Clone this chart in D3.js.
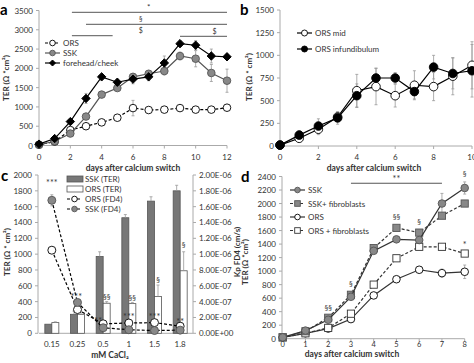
<!DOCTYPE html>
<html><head><meta charset="utf-8">
<script src="https://cdn.jsdelivr.net/npm/d3@7"></script>
<style>
body{margin:0;background:#fff}
text{font-family:Lato,"Open Sans",sans-serif;fill:#333}
</style></head>
<body>
<svg id="c" width="474" height="363"></svg>
<script>
// ---------- DATA ----------
const daysA = [0,1,2,3,4,5,6,7,8,9,10,11,12];
const aORS  = [20,100,400,500,600,720,970,920,930,970,930,930,980];
const aSSK  = [20,110,310,750,1320,1490,1780,1860,1930,2320,2250,1880,1680];
const aFH   = [35,180,620,1220,1780,1640,1720,1780,2140,2640,2600,2320,2300];
const aORSerr = [0,30,40,40,40,50,200,40,40,40,40,40,40];
const aSSKerr = [0,30,40,50,50,60,60,80,100,100,210,220,300];
const aFHerr  = [0,40,50,130,60,80,120,100,180,60,120,180,60];
const aYTicks = [0,500,1000,1500,2000,2500,3000,3500];
const aXTicks = [0,2,4,6,8,10,12];

const daysB = [0,1,2,3,4,5,6,7,8,9,10];
const bMid = [10,85,185,320,610,655,555,670,655,770,890];
const bInf = [10,120,220,310,555,750,750,600,870,800,830];
const bMidErr = [0,40,60,50,180,200,125,160,155,205,260];
const bInfErr = [0,50,80,70,130,110,60,80,130,170,290];
const bYTicks = [0,250,500,750,1000,1250,1500];
const bXTicks = [0,2,4,6,8,10];

const concs = ["0.15","0.25","0.5","1","1.5","1.8"];
const sskTER = [115,240,970,1460,1670,1800];
const orsTER = [135,240,380,375,465,790];
const sskTERerr = [0,40,60,40,55,70];
const orsTERerr = [10,30,20,15,145,240];
const orsFD4 = [1.05e-6,3.0e-7,1.2e-7,1.3e-7,1.35e-7,9e-8];
const sskFD4 = [1.68e-6,3.9e-7,7e-8,4.5e-8,3.5e-8,4e-8];
const sskFD4err = [7e-8,2e-8,1e-8,1e-8,1e-8,1e-8];
const cYTicks = [0,200,400,600,800,1000,1200,1400,1600,1800,2000];
const cY2Ticks = ["0.00E+00","2.00E-07","4.00E-07","6.00E-07","8.00E-07","1.00E-06","1.20E-06","1.40E-06","1.60E-06","1.80E-06","2.00E-06"];

const daysD = [0,1,2,3,4,5,6,7,8];
const dSSK  = [20,120,280,620,1300,1470,1460,2000,2230];
const dSSKf = [20,110,310,650,1340,1640,1570,1820,2000];
const dORS  = [20,80,150,290,640,880,1020,970,990];
const dORSf = [20,80,160,370,800,1190,1360,1360,1260];
const dSSKerr = [0,20,30,30,40,40,40,150,90];
const dORSerr = [0,20,20,20,30,30,30,60,100];
const dYTicks = [0,200,400,600,800,1000,1200,1400,1600,1800,2000,2200,2400];

const svg = d3.select("#c");
const AX = "#aaa", TF = 8;

function yAxis(g, y, x0, ticks){
  g.append("line").attr("x1",x0).attr("x2",x0).attr("y1",y.range()[0]).attr("y2",y.range()[1]).attr("stroke",AX);
  ticks.forEach(t=>{
    g.append("line").attr("x1",x0-3).attr("x2",x0).attr("y1",y(t)).attr("y2",y(t)).attr("stroke",AX);
    g.append("text").attr("x",x0-6).attr("y",y(t)+3).attr("text-anchor","end").attr("font-size",TF).text(t);
  });
}
function xAxis(g, x, y0, ticks, off, fs){
  g.append("line").attr("x1",x.range()[0]).attr("x2",x.range()[1]).attr("y1",y0).attr("y2",y0).attr("stroke",AX);
  ticks.forEach(t=>{
    g.append("line").attr("x1",x(t)).attr("x2",x(t)).attr("y1",y0).attr("y2",y0+3).attr("stroke",AX);
    g.append("text").attr("x",x(t)).attr("y",y0+(off||14)).attr("text-anchor","middle").attr("font-size",fs||TF).text(t);
  });
}
function errBars(g, xs, vals, errs, x, y){
  vals.forEach((v,i)=>{
    if(!errs[i]) return;
    const cx=x(xs[i]);
    g.append("line").attr("x1",cx).attr("x2",cx).attr("y1",y(v-errs[i])).attr("y2",y(v+errs[i])).attr("stroke","#999").attr("stroke-width",0.8);
    [v-errs[i],v+errs[i]].forEach(e=>g.append("line").attr("x1",cx-1.5).attr("x2",cx+1.5).attr("y1",y(e)).attr("y2",y(e)).attr("stroke","#999").attr("stroke-width",0.8));
  });
}
function series(g, xs, vals, x, y, o){
  const line=d3.line().x((d,i)=>x(xs[i])).y(d=>y(d));
  g.append("path").attr("d",line(vals)).attr("fill","none").attr("stroke",o.line||"#000").attr("stroke-width",o.lw||1.2).attr("stroke-dasharray",o.dash||null);
  vals.forEach((v,i)=>marker(g,x(xs[i]),y(v),o));
}
function marker(g,cx,cy,o){
  const r=o.r||3.8;
  if(o.shape==="square") g.append("rect").attr("x",cx-r).attr("y",cy-r).attr("width",2*r).attr("height",2*r).attr("fill",o.fill).attr("stroke",o.stroke).attr("stroke-width",0.9);
  else if(o.shape==="diamond") g.append("path").attr("d",`M${cx},${cy-r}L${cx+r},${cy}L${cx},${cy+r}L${cx-r},${cy}Z`).attr("fill",o.fill).attr("stroke",o.stroke);
  else g.append("circle").attr("cx",cx).attr("cy",cy).attr("r",r).attr("fill",o.fill).attr("stroke",o.stroke).attr("stroke-width",0.9);
}
function legend(g, x0, y0, dy, items){
  items.forEach((it,i)=>{
    const yy=y0+i*dy;
    if(it.bar){ g.append("rect").attr("x",x0).attr("y",yy-3).attr("width",16).attr("height",6).attr("fill",it.fill).attr("stroke","#555").attr("stroke-width",0.8); }
    else { g.append("line").attr("x1",x0).attr("x2",x0+15).attr("y1",yy).attr("y2",yy).attr("stroke",it.line||"#000").attr("stroke-width",1.2).attr("stroke-dasharray",it.dash||null);
      marker(g,x0+7.5,yy,Object.assign({},it,{r:it.lr||2.8})); }
    g.append("text").attr("x",x0+18).attr("y",yy+3).attr("font-size",TF).text(it.label);
  });
}
function ylabel(g,x,y,txt){
  g.append("text").attr("transform",`translate(${x},${y}) rotate(-90)`).attr("text-anchor","middle").attr("font-size",8).attr("font-weight","bold").text(txt);
}
function sig(g,x,y,txt,size){
  g.append("text").attr("x",x).attr("y",y).attr("text-anchor","middle").attr("font-size",size||8).attr("fill","#444").text(txt);
}
function panelLetter(x,y,t){ svg.append("text").attr("x",x).attr("y",y).attr("font-size",15).attr("font-weight","bold").style("fill","#000").text(t); }

const ORSo={shape:"circle",fill:"#fff",stroke:"#000",dash:"3,2"};
const SSKo={shape:"circle",fill:"#888",stroke:"#555",line:"#555"};
const FHo={shape:"diamond",fill:"#000",stroke:"#000",r:4.2};

// ---------- PANEL A ----------
{
  const g=svg.append("g");
  const x=d3.scaleLinear().domain([0,12]).range([39,227]);
  const y=d3.scaleLinear().domain([0,3500]).range([145.5,10.5]);
  yAxis(g,y,39,aYTicks); xAxis(g,x,145.5,aXTicks);
  errBars(g,daysA,aORS,aORSerr,x,y); errBars(g,daysA,aSSK,aSSKerr,x,y); errBars(g,daysA,aFH,aFHerr,x,y);
  series(g,daysA,aORS,x,y,ORSo);
  series(g,daysA,aSSK,x,y,SSKo);
  series(g,daysA,aFH,x,y,FHo);
  const sl=[[2.1,12,3450,"*",7],[3,12,3140,"§",6.5],[2.1,4.7,2850,"$",6.5],[9,12,2830,"$",11.2]];
  sl.forEach(s=>{g.append("line").attr("x1",x(s[0])).attr("x2",x(s[1])).attr("y1",y(s[2])).attr("y2",y(s[2])).attr("stroke","#777").attr("stroke-width",1.2);
    sig(g,x(s[4]),y(s[2])-2.5,s[3],s[3]==="*"?8:7);});
  legend(g,45,43,10,[Object.assign({label:"ORS"},ORSo),Object.assign({label:"SSK"},SSKo),Object.assign({label:"forehead/cheek",lr:3},FHo)]);
  ylabel(g,9,78,"TER (Ω *cm²)");
  g.append("text").attr("x",133).attr("y",171).attr("text-anchor","middle").attr("font-size",8.5).attr("font-weight","bold").text("days after calcium switch");
  panelLetter(0,15,"a");
}
// ---------- PANEL B ----------
{
  const g=svg.append("g");
  const x=d3.scaleLinear().domain([0,10]).range([280,472]);
  const y=d3.scaleLinear().domain([0,1500]).range([146,10]);
  yAxis(g,y,280,bYTicks); xAxis(g,x,146,bXTicks);
  errBars(g,daysB,bMid,bMidErr,x,y); errBars(g,daysB,bInf,bInfErr,x,y);
  series(g,daysB,bMid,x,y,{shape:"circle",fill:"#fff",stroke:"#000",r:4.3});
  series(g,daysB,bInf,x,y,{shape:"circle",fill:"#000",stroke:"#000",r:4.3});
  legend(g,297,33,16,[{label:"ORS mid",shape:"circle",fill:"#fff",stroke:"#000",lr:3},{label:"ORS infundibulum",shape:"circle",fill:"#000",stroke:"#000",lr:3}]);
  ylabel(g,252,77,"TER (Ω * cm²)");
  g.append("text").attr("x",374).attr("y",171).attr("text-anchor","middle").attr("font-size",8.5).attr("font-weight","bold").text("days after calcium switch");
  panelLetter(240,15,"b");
}
// ---------- PANEL C ----------
{
  const g=svg.append("g");
  const x=d3.scaleBand().domain(concs).range([39,193]);
  const y=d3.scaleLinear().domain([0,2000]).range([333.3,175]);
  const y2=d3.scaleLinear().domain([0,2e-6]).range([333.3,175]);
  yAxis(g,y,38,cYTicks);
  g.append("line").attr("x1",193).attr("x2",193).attr("y1",333.3).attr("y2",175).attr("stroke",AX);
  cY2Ticks.forEach(t=>{const v=+t; g.append("line").attr("x1",193).attr("x2",196).attr("y1",y2(v)).attr("y2",y2(v)).attr("stroke",AX);
    g.append("text").attr("x",199).attr("y",y2(v)+3).attr("font-size",TF).text(t);});
  g.append("line").attr("x1",39).attr("x2",193).attr("y1",333.3).attr("y2",333.3).attr("stroke",AX);
  concs.forEach(c=>g.append("text").attr("x",x(c)+x.bandwidth()/2).attr("y",347).attr("text-anchor","middle").attr("font-size",TF).text(c));
  const bw=7;
  concs.forEach((c,i)=>{
    const cx=x(c)+x.bandwidth()/2;
    [[sskTER[i],sskTERerr[i],cx-bw,"#777"],[orsTER[i],orsTERerr[i],cx,"#fff"]].forEach(b=>{
      g.append("rect").attr("x",b[2]).attr("y",y(b[0])).attr("width",bw).attr("height",y(0)-y(b[0])).attr("fill",b[3]).attr("stroke","#555").attr("stroke-width",0.8);
      if(b[1]){const ex=b[2]+bw/2; g.append("line").attr("x1",ex).attr("x2",ex).attr("y1",y(b[0])).attr("y2",y(b[0]+b[1])).attr("stroke","#999").attr("stroke-width",0.8);
        g.append("line").attr("x1",ex-1.5).attr("x2",ex+1.5).attr("y1",y(b[0]+b[1])).attr("y2",y(b[0]+b[1])).attr("stroke","#999").attr("stroke-width",0.8);}
    });
  });
  const xc=c=>x(c)+x.bandwidth()/2;
  errBars(g,concs,sskFD4,sskFD4err,xc,y2);
  series(g,concs,orsFD4,xc,y2,{shape:"circle",fill:"#fff",stroke:"#000",dash:"3,2",r:4});
  series(g,concs,sskFD4,xc,y2,{shape:"circle",fill:"#888",stroke:"#555",dash:"3,2",r:4});
  const ann=[[0,1.9e-6,"***"],[1,4.6e-7,"***"],[2,1.5e-7,"**"],[3,2.0e-7,"***"],[4,2.0e-7,"***"],[5,1.4e-7,"**"]];
  const annX=[0,-0.05,-0.2,0,0,0];
  ann.forEach((a,i)=>sig(g,xc(concs[a[0]])+annX[i]*25,y2(a[1])+3,a[2],9));
  const sec=[[2,420,"§§"],[3,410,"§§"],[4,640,"§"],[5,1080,"§"]];
  sec.forEach(s=>sig(g,xc(concs[s[0]])+3.5,y(s[1]),s[2],7.5));
  legend(g,67,179,10,[{label:"SSK (TER)",bar:true,fill:"#777"},{label:"ORS (TER)",bar:true,fill:"#fff"},
    {label:"ORS (FD4)",shape:"circle",fill:"#fff",stroke:"#000",dash:"3,2"},{label:"SSK (FD4)",shape:"circle",fill:"#888",stroke:"#555",dash:"3,2"}]);
  ylabel(g,10,252,"TER (Ω * cm²)");
  ylabel(g,240,252,"Kp FD4 (cm/s)");
  g.append("text").attr("x",110).attr("y",358).attr("text-anchor","middle").attr("font-size",8.5).attr("font-weight","bold").text("mM CaCl₂");
  panelLetter(1,181,"c");
}
// ---------- PANEL D ----------
{
  const g=svg.append("g");
  const x=d3.scaleLinear().domain([0,8]).range([282.7,464.7]);
  const y=d3.scaleLinear().domain([0,2400]).range([338.7,176.5]);
  yAxis(g,y,282,dYTicks); xAxis(g,x,338.7,daysD,8.5,7.5);
  errBars(g,daysD,dSSK,dSSKerr,x,y); errBars(g,daysD,dORS,dORSerr,x,y);
  series(g,daysD,dORS,x,y,{shape:"circle",fill:"#fff",stroke:"#000",line:"#333",r:3.8});
  series(g,daysD,dORSf,x,y,{shape:"square",fill:"#fff",stroke:"#333",line:"#333",dash:"3,2",r:3.6});
  series(g,daysD,dSSKf,x,y,{shape:"square",fill:"#888",stroke:"#555",line:"#333",dash:"3,2",r:3.6});
  series(g,daysD,dSSK,x,y,{shape:"circle",fill:"#888",stroke:"#555",line:"#333",r:3.8});
  g.append("line").attr("x1",x(3)).attr("x2",x(7)).attr("y1",y(2300)).attr("y2",y(2300)).attr("stroke","#555").attr("stroke-width",1.2);
  sig(g,x(5),y(2300)-1,"**",9);
  const sd=[[8,2400,"§"],[5,1760,"§§"],[6,1680,"§"],[3,760,"§"],[2,410,"§§"]];
  sd.forEach(s=>sig(g,x(s[0]),y(s[1]),s[2],7.5));
  sig(g,x(8),y(1390)+3,"*",9);
  legend(g,290,190,13.5,[{label:"SSK",shape:"circle",fill:"#888",stroke:"#555",line:"#333"},
    {label:"SSK+ fibroblasts",shape:"square",fill:"#888",stroke:"#555",line:"#333",dash:"3,2"},
    {label:"ORS",shape:"circle",fill:"#fff",stroke:"#000",line:"#333"},
    {label:"ORS + fibroblasts",shape:"square",fill:"#fff",stroke:"#333",line:"#333",dash:"3,2"}]);
  ylabel(g,248,262,"TER (Ω *cm²)");
  g.append("text").attr("x",352).attr("y",357).attr("text-anchor","middle").attr("font-size",8.5).attr("font-weight","bold").text("days after calcium switch");
  panelLetter(241,182,"d");
}
</script>
</body></html>
